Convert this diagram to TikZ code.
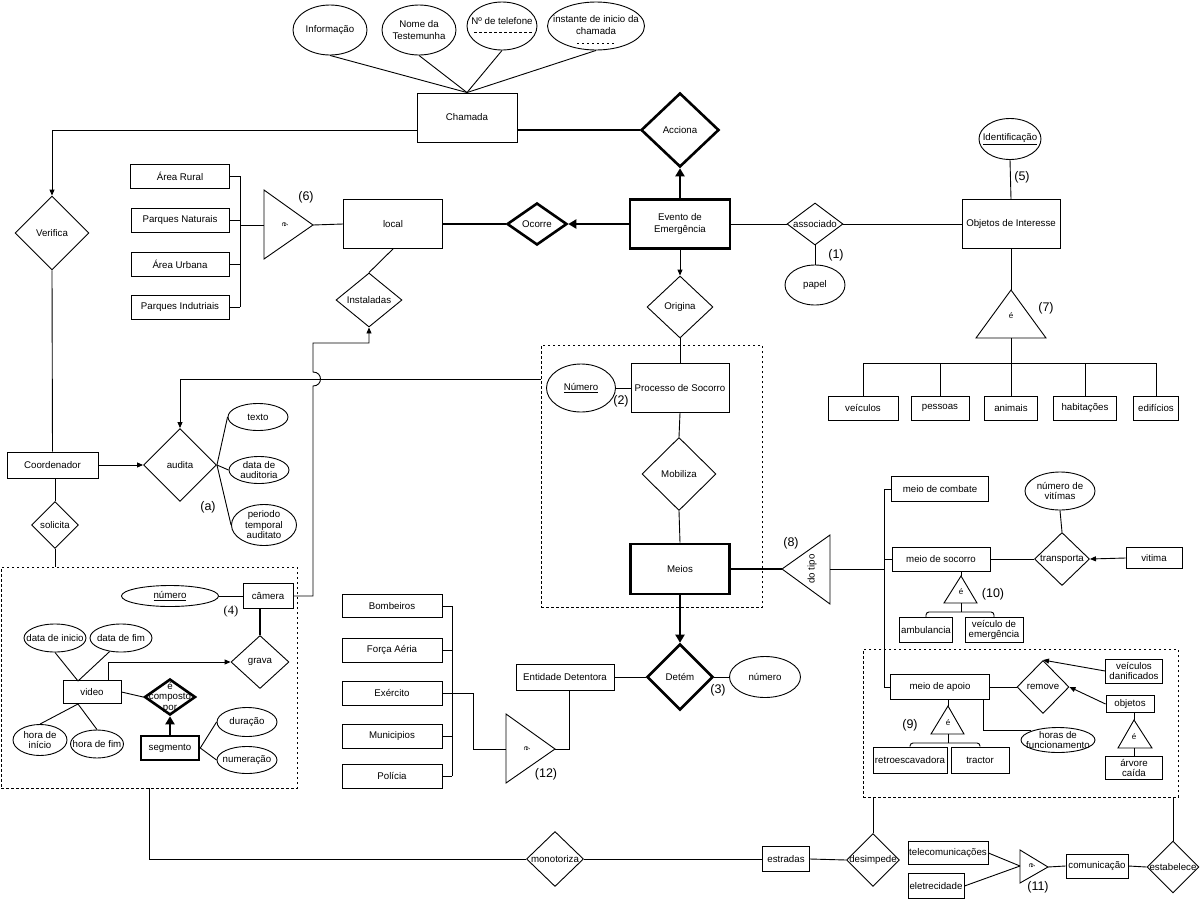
\documentclass[tikz,border=0pt]{standalone}
\usepackage{fontspec}
\setmainfont{Liberation Sans}
\newfontfamily\notefont{Liberation Serif}
\usetikzlibrary{shapes.geometric,arrows.meta}
\begin{document}
\begin{tikzpicture}[x=1pt,y=-1pt,
  every node/.style={font=\fontsize{9.7}{11.2}\selectfont, text=black},
  sz/.style 2 args={minimum width=#1pt, minimum height=#2pt},
  ln/.style={line width=0.9pt},
  wln/.style={line width=2.6pt},
  ent/.style={draw, rectangle, line width=0.9pt, inner sep=0pt, align=center},
  went/.style={ent, line width=2.6pt},
  rel/.style={draw, diamond, line width=0.9pt, inner sep=0pt},
  wrel/.style={rel, line width=2.6pt},
  attr/.style={draw, ellipse, line width=0.9pt, inner sep=0pt},
  grp/.style={draw, rectangle, line width=0.9pt, dash pattern=on 2.5pt off 2.5pt, inner sep=0pt},
  tri/.style={line width=0.9pt, line join=miter},
  note/.style={font=\fontsize{12.5}{14}\selectfont},
  small/.style={font=\fontsize{8}{9}\selectfont},
  arr/.style={ln, -{Triangle[length=6pt,width=5pt]}},
  warr/.style={wln, -{Triangle[length=8pt,width=9pt]}},
  tt/.style={align=center}
]
\useasboundingbox (0,0) rectangle (1200,900);
\fill[white] (0,0) rectangle (1200,900);

% group boxes
\node[grp, sz={296}{221}] (videogrp) at (149,677.5) {};
\node[grp, sz={221}{262}] (procgrp) at (651.5,476) {};
\node[grp, sz={315}{148}] (apoiogrp) at (1020.5,723) {};

% coordinates
\coordinate (br6) at (240,225);
\coordinate (bar7) at (1011,363);
\coordinate (br8) at (884,569);
\coordinate (pg) at (541,379);
\coordinate (vx) at (108,0);
\coordinate (vt) at (78,681);
\coordinate (vb) at (78,704);
\coordinate (hfx) at (983,0);
\coordinate (e12) at (569,0);
\coordinate (k12) at (473,0);
\coordinate (b12) at (452,0);
\coordinate (jA) at (313,596);
\coordinate (jB) at (313,386);
\coordinate (jC) at (313,372);
\coordinate (jD) at (313,343);

% attributes of Chamada
\node[attr, sz={74}{50}, label={[tt]center:Informação}] (info) at (330,30) {};
\node[attr, sz={74}{50}, label={[tt]center:Nome da\\Testemunha}] (nome) at (419,30) {};
\node[attr, sz={70}{48}, label={[tt,yshift=5pt]center:Nº de telefone}] (telefone) at (502,26) {};
\node[attr, sz={97}{48}, label={[tt,yshift=1pt]center:instante de inicio da\\chamada}] (instante) at (596,26) {};
\draw[ln, dash pattern=on 3pt off 2pt] (474,32) -- (532,32);
\draw[ln, dash pattern=on 2pt off 3pt] (577,43) -- (614,43);

% entities
\node[ent, sz={100}{49}] (chamada) at (467,117.5) {Chamada};
\node[went, sz={100}{49}] (evento) at (680,224) {Evento de\\Emergência};
\node[ent, sz={99}{49}] (local) at (393,224) {local};
\node[ent, sz={98}{49}] (objetos) at (1011,224) {Objetos de Interesse};
\node[ent, sz={99}{24}] (arearural) at (180,176) {Área Rural};
\node[ent, sz={98}{24}] (parquesnat) at (180,220) {Parques Naturais};
\node[ent, sz={98}{24}] (areaurb) at (180,264) {Área Urbana};
\node[ent, sz={98}{24}] (parquesind) at (180,307) {Parques Indutriais};
\node[ent, sz={91}{26}] (coord) at (52.5,465) {Coordenador};
\node[ent, sz={98}{49}] (processo) at (680,388) {Processo de Socorro};
\node[went, sz={99}{50}] (meios) at (680,569) {Meios};
\node[ent, sz={98}{26}] (entidade) at (565,677) {Entidade Detentora};
\node[ent, sz={100}{23}] (bombeiros) at (392,606) {Bombeiros};
\node[ent, sz={100}{24}] (forca) at (392,650) {Força Aéria};
\node[ent, sz={100}{24}] (exercito) at (392,693) {Exército};
\node[ent, sz={100}{24}] (municipios) at (392,736) {Municipios};
\node[ent, sz={100}{24}] (policia) at (392,776) {Polícia};
\node[ent, sz={50}{25}] (camera) at (268,596) {câmera};
\node[ent, sz={58}{23}] (video) at (92,692) {video};
\node[went, sz={58}{24}] (segmento) at (170,748) {segmento};
\node[ent, sz={70}{24}] (veiculos) at (863,408) {veículos};
\node[ent, sz={58}{24}] (pessoas) at (940,408) {pessoas};
\node[ent, sz={53}{24}] (animais) at (1011,408) {animais};
\node[ent, sz={63}{24}] (habitacoes) at (1085,408) {habitações};
\node[ent, sz={45}{24}] (edificios) at (1156,408) {edifícios};
\node[ent, sz={97}{25}] (combate) at (940,489) {meio de combate};
\node[ent, sz={98}{24}] (socorro) at (941,559) {meio de socorro};
\node[ent, sz={56}{21}] (vitima) at (1154,558) {vitima};
\node[ent, sz={53}{25}] (ambulancia) at (926,630) {ambulancia};
\node[ent, sz={58}{25}, font=\fontsize{9.7}{10}\selectfont] (veicemerg) at (994,630) {veículo de\\emergência};
\node[ent, sz={99}{25}] (apoio) at (940,687) {meio de apoio};
\node[ent, sz={57}{24}, font=\fontsize{9.7}{10}\selectfont] (veicdan) at (1134,671) {veículos\\danificados};
\node[ent, sz={48}{17}] (objetosb) at (1130,704) {objetos};
\node[ent, sz={57}{23}, font=\fontsize{9.7}{10}\selectfont] (arvore) at (1134,768) {árvore\\caída};
\node[ent, sz={74}{26}] (retro) at (910,760) {retroescavadora};
\node[ent, sz={58}{26}] (tractor) at (980,760) {tractor};
\node[ent, sz={47}{25}] (estradas) at (786,859) {estradas};
\node[ent, sz={80}{23}] (telecom) at (948,853) {telecomunicações};
\node[ent, sz={56}{25}] (eletr) at (936,886) {eletrecidade};
\node[ent, sz={62}{24}] (comunic) at (1097,866) {comunicação};

% relationships
\node[wrel, sz={78}{74}, label={center:Acciona}] (acciona) at (680,130) {};
\node[wrel, sz={60}{42}, label={center:Ocorre}] (ocorre) at (537,224) {};
\node[rel, sz={74}{74}, label={center:Verifica}] (verifica) at (52,233) {};
\node[rel, sz={66}{54}, label={center:Instaladas}] (instaladas) at (369,300) {};
\node[rel, sz={56}{42}, label={center:associado}] (associado) at (815,224) {};
\node[rel, sz={66}{62}, label={center:Origina}] (origina) at (680,307) {};
\node[rel, sz={73}{73}, label={center:audita}] (audita) at (180,465) {};
\node[rel, sz={47}{47}, label={center:solicita}] (solicita) at (55,525) {};
\node[rel, sz={74}{73}, label={center:Mobiliza}] (mobiliza) at (679,474) {};
\node[rel, sz={58}{53}, label={center:grava}] (grava) at (260,662) {};
\node[wrel, sz={51}{36}, label={[tt, font=\fontsize{9.7}{10.5}\selectfont]center:é\\composto\\por}] (composto) at (170,697) {};
\node[wrel, sz={66}{66}, label={center:Detém}] (detem) at (680,677) {};
\node[rel, sz={55}{53}, label={center:transporta}] (transporta) at (1062,559) {};
\node[rel, sz={52}{53}, label={center:remove}] (remove) at (1043,687) {};
\node[rel, sz={57}{55}, label={center:monotoriza}] (monotoriza) at (555,859) {};
\node[rel, sz={53}{53}, label={center:desimpede}] (desimpede) at (873,860) {};
\node[rel, sz={52}{52}, label={center:estabelece}] (estabelece) at (1173,867) {};

% other attributes
\node[attr, sz={62}{41}, label={center:\underline{Identificação}}] (identif) at (1010,139) {};
\node[attr, sz={60}{40}, label={center:papel}] (papel) at (815,285) {};
\node[attr, sz={69}{48}, label={center:\underline{Número}}] (numps) at (581,388) {};
\node[attr, sz={60}{27}, label={center:texto}] (texto) at (258,417) {};
\node[attr, sz={60}{27}, label={[tt, font=\fontsize{9.7}{10}\selectfont]center:data de\\auditoria}] (dataaud) at (259,470) {};
\node[attr, sz={65}{41}, label={[tt, font=\fontsize{9.7}{10.5}\selectfont]center:periodo\\temporal\\auditato}] (periodo) at (264,525) {};
\node[attr, sz={97}{21}, label={center:\underline{número}}] (numcam) at (170,596) {};
\node[attr, sz={62}{28}, label={center:data de inicio}] (datainicio) at (55,638) {};
\node[attr, sz={62}{28}, label={center:data de fim}] (datafim) at (121,638) {};
\node[attr, sz={54}{31}, label={[tt, font=\fontsize{9.7}{10}\selectfont]center:hora de\\início}] (horainicio) at (40,740) {};
\node[attr, sz={53}{28}, label={center:hora de fim}] (horafim) at (97,744) {};
\node[attr, sz={60}{29}, label={center:duração}] (duracao) at (247,722) {};
\node[attr, sz={60}{27}, label={center:numeração}] (numeracao) at (247,760) {};
\node[attr, sz={71}{41}, label={center:número}] (numdet) at (765,677) {};
\node[attr, sz={70}{38}, label={[tt, font=\fontsize{9.7}{10.5}\selectfont]center:número de\\vitímas}] (numvit) at (1060,491) {};
\node[attr, sz={74}{25}, label={[tt, font=\fontsize{9.7}{10}\selectfont]center:horas de\\funcionamento}] (horasfunc) at (1058,740) {};

% specialisation triangles
\draw[tri] (264,190) -- (313,225) -- (264,259) -- cycle;
\coordinate (t6a) at (313,225); \coordinate (t6b) at (264,225);
\draw[tri] (1011,290) -- (1046,338) -- (976,338) -- cycle;
\coordinate (t7a) at (1011,290); \coordinate (t7b) at (1011,338);
\draw[tri] (782,569) -- (830,535) -- (830,604) -- cycle;
\coordinate (t8a) at (782,569); \coordinate (t8b) at (830,569);
\draw[tri] (948,706) -- (964,734) -- (931,734) -- cycle;
\coordinate (t9a) at (948,706); \coordinate (t9b) at (948,734); \coordinate (t9m) at (948,743);
\draw[tri] (961,576) -- (977,603) -- (944,603) -- cycle;
\coordinate (t10a) at (961,576); \coordinate (t10b) at (961,603); \coordinate (t10m) at (961,612);
\draw[tri] (1020,850) -- (1048,867) -- (1020,883) -- cycle;
\coordinate (t11a) at (1048,867); \coordinate (t11b) at (1020,866);
\draw[tri] (506,714) -- (555,749) -- (506,783) -- cycle;
\coordinate (t12a) at (555,749); \coordinate (t12b) at (506,749);
\draw[tri] (1134,720) -- (1152,748) -- (1118,748) -- cycle;
\coordinate (tobja) at (1134,720); \coordinate (tobjb) at (1134,748);

\node[small, rotate=-90] (t6l) at (285,225) {é};
\node[small] (t7l) at (1011,316) {é};
\node[rotate=90] (t8l) at (812,569) {do tipo};
\node[small] (t9l) at (948,723) {é};
\node[small] (t10l) at (961,592) {é};
\node[small, rotate=-90] (t11l) at (1032,866) {é};
\node[small, rotate=-90] (t12l) at (527,749) {é};
\node[small] (tobjl) at (1134,737) {é};

% notes
\node[note] (n1) at (836,255) {(1)};
\node[note] (n2) at (621,401) {(2)};
\node[note] (n3) at (718,690) {(3)};
\node[note, font=\notefont\fontsize{12.5}{14}\selectfont] (n4) at (231,611) {(4)};
\node[note] (n5) at (1022,177) {(5)};
\node[note] (n6) at (306,197) {(6)};
\node[note] (n7) at (1046,308) {(7)};
\node[note] (n8) at (791,543) {(8)};
\node[note] (n9) at (910,725) {(9)};
\node[note] (n10) at (993,594) {(10)};
\node[note] (n11) at (1038,887) {(11)};
\node[note] (n12) at (546,774) {(12)};
\node[note] (na) at (208,507) {(a)};

% connectors
\draw[ln] (info.south) -- (chamada.north);
\draw[ln] (nome.south) -- (chamada.north);
\draw[ln] (telefone.south) -- (chamada.north);
\draw[ln] (instante.south) -- (chamada.north);
\draw[wln] (chamada.east |- acciona.west) -- (acciona.west);
\draw[arr] (chamada.west |- acciona.west) -| (verifica.north);
\draw[warr] (evento.north) -- (acciona.south);
\draw[warr] (evento.west) -- (ocorre.east);
\draw[wln] (local.east) -- (ocorre.west);
\draw[ln] (t6a) -- (local.west);
\draw[ln] (t6b) -- (br6);
\draw[ln] (arearural.east -| br6) -- (parquesind.east -| br6);
\foreach \n in {arearural,parquesnat,areaurb,parquesind} \draw[ln] (\n.east) -- (\n.east -| br6);
\draw[ln] (local.south) -- (instaladas.north);
\draw[ln] (evento.east) -- (associado.west);
\draw[ln] (associado.east) -- (objetos.west);
\draw[ln] (associado.south) -- (papel.north);
\draw[ln] (identif.south) -- (objetos.north);
\draw[ln] (objetos.south) -- (t7a);
\draw[ln] (t7b) -- (bar7);
\draw[ln] (veiculos.north |- bar7) -- (edificios.north |- bar7);
\foreach \n in {veiculos,pessoas,animais,habitacoes,edificios} \draw[ln] (\n.north |- bar7) -- (\n.north);
\draw[arr] (evento.south) -- (origina.north);
\draw[ln] (origina.south) -- (processo.north);
\draw[ln] (numps.east) -- (processo.west);
\draw[ln] (processo.south) -- (mobiliza.north);
\draw[ln] (mobiliza.south) -- (meios.north);
\draw[warr] (meios.south) -- (detem.north);
\draw[ln] (entidade.east) -- (detem.west);
\draw[ln] (detem.east) -- (numdet.west);
\draw[wln] (meios.east) -- (t8a);
\draw[ln] (t8b) -- (br8);
\draw[ln] (combate.west -| br8) -- (apoio.west -| br8);
\foreach \n in {combate,socorro,apoio} \draw[ln] (\n.west -| br8) -- (\n.west);
\draw[ln] (socorro.east) -- (transporta.west);
\draw[ln] (numvit.south) -- (transporta.north);
\draw[arr] (vitima.west) -- (transporta.east);
\draw[ln] (socorro.south -| t10a) -- (t10a);
\draw[ln] (t10b) -- (t10m);
\draw[ln, rounded corners=3pt] (ambulancia.north) |- (t10m) -| (veicemerg.north);
\draw[ln] (apoio.east) -- (remove.west);
\draw[arr] (veicdan.west) -- (remove.north);
\draw[arr] (objetosb.west) -- (remove.east);
\draw[ln] (objetosb.south -| tobja) -- (tobja);
\draw[ln] (tobjb) -- (arvore.north);
\draw[ln] (apoio.south -| t9a) -- (t9a);
\draw[ln] (t9b) -- (t9m);
\draw[ln, rounded corners=3pt] (retro.north) |- (t9m) -| (tractor.north);
\draw[ln] (apoio.south -| hfx) |- (horasfunc.161);
\draw[ln] (verifica.south) -- (coord.north);
\draw[arr] (coord.east) -- (audita.west);
\draw[arr] (pg) -| (audita.north);
\draw[ln] (audita.east) -- (texto.west);
\draw[ln] (audita.east) -- (dataaud.west);
\draw[ln] (audita.east) -- (periodo.west);
\draw[ln] (solicita.north |- coord.south) -- (solicita.north);
\draw[ln] (solicita.south) -- (solicita.south |- videogrp.north);
\draw[ln] (numcam.east) -- (camera.west);
\draw[arr] (camera.east) -- (jA) -- (jB) .. controls (323,386) and (323,372) .. (jC) -- (jD) -| (instaladas.south);
\draw[wln] (grava.north |- camera.south) -- (grava.north);
\draw[arr] (video.north -| vx) |- (grava.west);
\draw[ln] (datainicio.south) -- (vt);
\draw[ln] (datafim.230) -- (vt);
\draw[ln] (horainicio.north) -- (vb);
\draw[ln] (horafim.north) -- (vb);
\draw[ln] (video.east) -- (composto.west);
\draw[warr] (segmento.north) -- (composto.south);
\draw[ln] (segmento.east) -- (duracao.west);
\draw[ln] (segmento.east) -- (numeracao.west);
\draw[ln] (videogrp.south) |- (monotoriza.west);
\draw[ln] (monotoriza.east) -- (estradas.west);
\draw[ln] (estradas.east) -- (desimpede.west);
\draw[ln] (desimpede.north) -- (desimpede.north |- apoiogrp.south);
\draw[ln] (telecom.east) -- (t11b);
\draw[ln] (eletr.east) -- (t11b);
\draw[ln] (t11a) -- (comunic.west);
\draw[ln] (comunic.east) -- (estabelece.west);
\draw[ln] (estabelece.north) -- (estabelece.north |- apoiogrp.south);
\draw[ln] (t12a) -| (entidade.south -| e12);
\draw[ln] (t12b) -| (exercito.east -| k12) -- (exercito.east);
\draw[ln] (bombeiros.east -| b12) -- (policia.east -| b12);
\foreach \n in {bombeiros,forca,exercito,municipios,policia} \draw[ln] (\n.east) -- (\n.east -| b12);
\end{tikzpicture}
\end{document}
